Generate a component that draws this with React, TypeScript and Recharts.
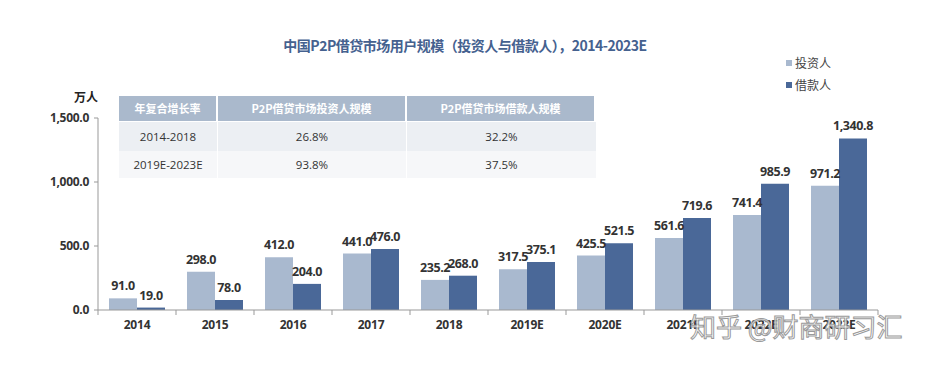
import React from "react"
import { BarChart, Bar, XAxis, YAxis, LabelList } from "recharts"

// Chart data
const years = ["2014", "2015", "2016", "2017", "2018", "2019E", "2020E", "2021E", "2022E", "2023E"]
const investors = [91.0, 298.0, 412.0, 441.0, 235.2, 317.5, 425.5, 561.6, 741.4, 971.2]
const borrowers = [19.0, 78.0, 204.0, 476.0, 268.0, 375.1, 521.5, 719.6, 985.9, 1340.8]
const yTicks = [0, 500, 1000, 1500]

// CAGR table
const tableHeader = ["年复合增长率", "P2P借贷市场投资人规模", "P2P借贷市场借款人规模"]
const tablePeriods = ["2014-2018", "2019E-2023E"]
const investorCagr = ["26.8%", "93.8%"]
const borrowerCagr = ["32.2%", "37.5%"]

const LIGHT = "#a9b9cf"
const DARK = "#4a6898"
const FONT = '"Open Sans", "Noto Sans CJK SC", sans-serif'
const CJK = '"Noto Sans CJK SC", sans-serif'

const W = 942
const H = 367
const PLOT_LEFT = 98
const PLOT_RIGHT = 878
const HALF_BAND = (PLOT_RIGHT - PLOT_LEFT) / years.length / 2

const data = years.map((y, i) => ({ year: y, investors: investors[i], borrowers: borrowers[i] }))

const fmt = (v: number) =>
  Number(v).toLocaleString("en-US", { minimumFractionDigits: 1, maximumFractionDigits: 1 })

const labelStyle = { fontSize: 12.5, fontWeight: 700, fill: "#333", fontFamily: FONT, letterSpacing: -0.4 }

const XTick = (props: any) => {
  const { x, y, payload, index } = props
  return (
    <g>
      <line x1={x - HALF_BAND} x2={x - HALF_BAND} y1={y - 8} y2={y - 3} stroke="#999" />
      {index === years.length - 1 && (
        <line x1={x + HALF_BAND} x2={x + HALF_BAND} y1={y - 8} y2={y - 3} stroke="#999" />
      )}
      <text x={x} y={y + 11} textAnchor="middle" fontSize={12} fontWeight={700} fill="#333" fontFamily={FONT} letterSpacing={-0.2}>
        {payload.value}
      </text>
    </g>
  )
}

export default function App() {
  const cellBase: React.CSSProperties = {
    textAlign: "center",
    fontSize: 11.5,
    color: "#333",
    fontFamily: FONT,
  }
  const colW = [99, 189, 189]

  return (
    <div style={{ position: "absolute", left: 0, top: 0, width: W, height: H, background: "#fff", fontFamily: FONT, overflow: "hidden" }}>
      <div
        style={{
          position: "absolute",
          left: 0,
          width: 930,
          top: 35,
          textAlign: "center",
          fontSize: 14,
          fontWeight: 700,
          color: "#45618f",
          fontFamily: CJK,
          letterSpacing: -0.5,
        }}
      >
        中国P2P借贷市场用户规模（投资人与借款人），2014-2023E
      </div>

      <BarChart
        width={W}
        height={H}
        data={data}
        margin={{ top: 118, right: W - PLOT_RIGHT, bottom: 27, left: 0 }}
        barGap={0}
        barSize={28}
      >
        <XAxis
          dataKey="year"
          height={30}
          tickLine={false}
          axisLine={{ stroke: "#999" }}
          tick={<XTick />}
          interval={0}
        />
        <YAxis
          width={PLOT_LEFT}
          domain={[0, 1500]}
          ticks={yTicks}
          tickFormatter={fmt}
          tickSize={4}
          tickMargin={5}
          tickLine={{ stroke: "#999" }}
          axisLine={{ stroke: "#999" }}
          tick={{ fontSize: 12, fontWeight: 700, fill: "#333", fontFamily: FONT, letterSpacing: -0.3 }}
        />
        <Bar dataKey="investors" fill={LIGHT} isAnimationActive={false}>
          <LabelList dataKey="investors" position="top" offset={8} formatter={fmt} style={labelStyle} />
        </Bar>
        <Bar dataKey="borrowers" fill={DARK} isAnimationActive={false}>
          <LabelList dataKey="borrowers" position="top" offset={8} formatter={fmt} style={labelStyle} />
        </Bar>
      </BarChart>

      <div style={{ position: "absolute", left: 74, top: 88, fontSize: 12, fontWeight: 700, color: "#222", fontFamily: CJK }}>
        万人
      </div>

      {/* legend */}
      <div style={{ position: "absolute", left: 786, top: 52, fontSize: 12, color: "#444", fontFamily: CJK, lineHeight: "22px" }}>
        <div style={{ display: "flex", alignItems: "center" }}>
          <span style={{ width: 6, height: 6, background: LIGHT, marginRight: 3, display: "inline-block" }} />
          投资人
        </div>
        <div style={{ display: "flex", alignItems: "center" }}>
          <span style={{ width: 6, height: 6, background: DARK, marginRight: 3, display: "inline-block" }} />
          借款人
        </div>
      </div>

      {/* CAGR table */}
      <div style={{ position: "absolute", left: 119, top: 96 }}>
        <div style={{ display: "flex", height: 25 }}>
          {tableHeader.map((h, i) => (
            <div
              key={h}
              style={{
                ...cellBase,
                width: colW[i] - 2,
                marginRight: 2,
                background: "#aab9cc",
                color: "#fff",
                fontWeight: 700,
                fontSize: 11,
                lineHeight: "25px",
                fontFamily: CJK,
              }}
            >
              {h}
            </div>
          ))}
        </div>
        {tablePeriods.map((p, r) => (
          <div key={p} style={{ display: "flex", height: r === 0 ? 29 : 27, marginTop: r === 0 ? 1 : 0, background: r === 0 ? "#eceff3" : "#f6f7f9" }}>
            {[p, investorCagr[r], borrowerCagr[r]].map((t, i) => (
              <div key={i} style={{ ...cellBase, width: colW[i], lineHeight: r === 0 ? "29px" : "27px", borderRight: i < 2 ? "1px solid #fff" : "none", boxSizing: "border-box" }}>
                {t}
              </div>
            ))}
          </div>
        ))}
      </div>

      {/* watermark */}
      <div
        style={{
          position: "absolute",
          left: 690,
          top: 309,
          fontSize: 26,
          lineHeight: "34px",
          color: "rgba(255,255,255,0.85)",
          WebkitTextStroke: "1px #9a9a9a",
          fontFamily: CJK,
          whiteSpace: "nowrap",
        }}
      >
        知乎 @财商研习汇
      </div>
    </div>
  )
}
